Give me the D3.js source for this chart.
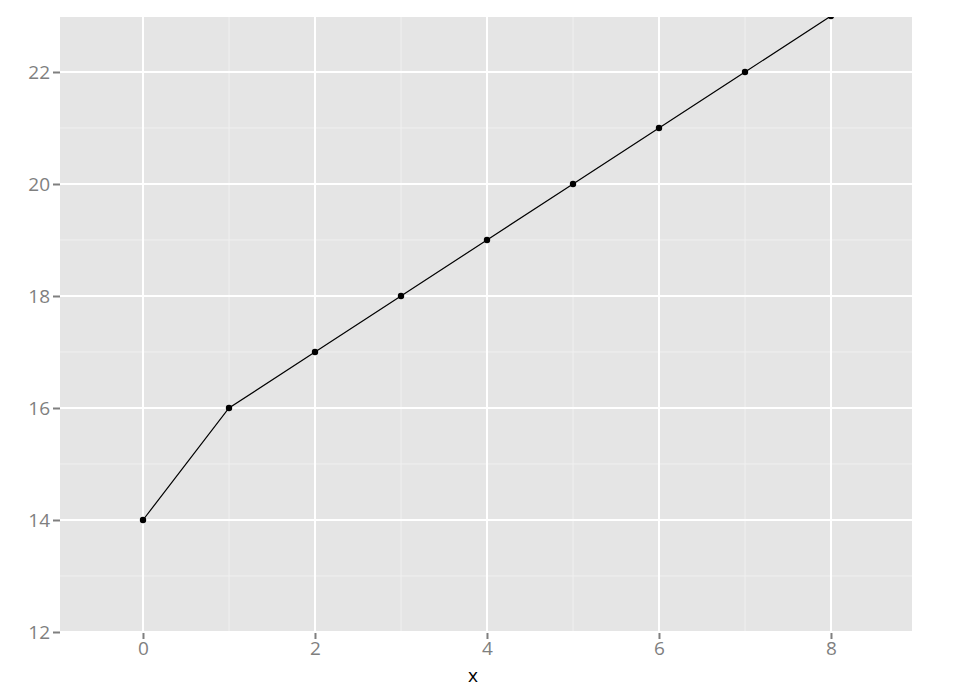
<!DOCTYPE html>
<html>
<head>
<meta charset="utf-8">
<script src="https://cdn.jsdelivr.net/npm/d3@7"></script>
<style>
  body { margin: 0; background: #fff; }
  svg text { font-family: "Open Sans", sans-serif; }
</style>
</head>
<body>
<div id="chart"></div>
<script>
// data
const xValues = [0, 1, 2, 3, 4, 5, 6, 7, 8];
const yValues = [14, 16, 17, 18, 19, 20, 21, 22, 23];
const xTicks = [0, 2, 4, 6, 8];
const yTicks = [12, 14, 16, 18, 20, 22];
const xMinor = [1, 3, 5, 7];
const yMinor = [13, 15, 17, 19, 21, 23];
const xTitle = "x";

const width = 963, height = 691;
const panel = { left: 60, right: 912, top: 17, bottom: 633 };

const x = d3.scaleLinear().domain([-0.965, 8.942]).range([panel.left, panel.right]);
const y = d3.scaleLinear().domain([12, 23]).range([632, 16]);

const svg = d3.select("#chart").append("svg")
  .attr("width", width).attr("height", height);

svg.append("defs").append("clipPath").attr("id", "panel-clip")
  .append("rect")
  .attr("x", panel.left).attr("y", panel.top)
  .attr("width", panel.right - panel.left).attr("height", panel.bottom - panel.top);

svg.append("rect")
  .attr("x", panel.left).attr("y", panel.top)
  .attr("width", panel.right - panel.left).attr("height", panel.bottom - panel.top)
  .attr("fill", "#e5e5e5");

const grid = svg.append("g").attr("clip-path", "url(#panel-clip)");

// minor grid
grid.selectAll("line.vminor").data(xMinor).enter().append("line")
  .attr("class", "vminor")
  .attr("x1", (d) => x(d)).attr("x2", (d) => x(d))
  .attr("y1", panel.top).attr("y2", panel.bottom)
  .attr("stroke", "#f0f0f0").attr("stroke-width", 1);
grid.selectAll("line.hminor").data(yMinor).enter().append("line")
  .attr("class", "hminor")
  .attr("y1", (d) => y(d)).attr("y2", (d) => y(d))
  .attr("x1", panel.left).attr("x2", panel.right)
  .attr("stroke", "#f0f0f0").attr("stroke-width", 1);

// major grid
grid.selectAll("line.vmajor").data(xTicks).enter().append("line")
  .attr("class", "vmajor")
  .attr("x1", (d) => x(d)).attr("x2", (d) => x(d))
  .attr("y1", panel.top).attr("y2", panel.bottom)
  .attr("stroke", "#fff").attr("stroke-width", 2);
grid.selectAll("line.hmajor").data(yTicks).enter().append("line")
  .attr("class", "hmajor")
  .attr("y1", (d) => y(d)).attr("y2", (d) => y(d))
  .attr("x1", panel.left).attr("x2", panel.right)
  .attr("stroke", "#fff").attr("stroke-width", 2);

// axes
const xAxis = svg.append("g")
  .attr("transform", `translate(0,${panel.bottom})`)
  .call(d3.axisBottom(x).tickValues(xTicks).tickSize(6).tickPadding(3).tickFormat(d3.format("d")));
const yAxis = svg.append("g")
  .attr("transform", `translate(${panel.left},0)`)
  .call(d3.axisLeft(y).tickValues(yTicks).tickSize(7).tickPadding(3).tickFormat(d3.format("d")));

[xAxis, yAxis].forEach((a) => {
  a.select(".domain").remove();
  a.selectAll(".tick line").attr("stroke", "#7f7f7f").attr("stroke-width", 2);
  a.selectAll(".tick text").attr("fill", "#7f7f7f").attr("font-size", 19);
});

svg.append("text")
  .attr("x", 473).attr("y", 682)
  .attr("text-anchor", "middle")
  .attr("font-size", 19).attr("fill", "#000")
  .text(xTitle);

// line + points
const data = xValues.map((v, i) => ({ x: v, y: yValues[i] }));
const marks = svg.append("g").attr("clip-path", "url(#panel-clip)");
marks.append("path")
  .datum(data)
  .attr("fill", "none").attr("stroke", "#000").attr("stroke-width", 1.2)
  .attr("d", d3.line().x((d) => x(d.x)).y((d) => y(d.y)));
marks.selectAll("circle").data(data).enter().append("circle")
  .attr("cx", (d) => x(d.x)).attr("cy", (d) => y(d.y))
  .attr("r", 3.2).attr("fill", "#000");
</script>
</body>
</html>
